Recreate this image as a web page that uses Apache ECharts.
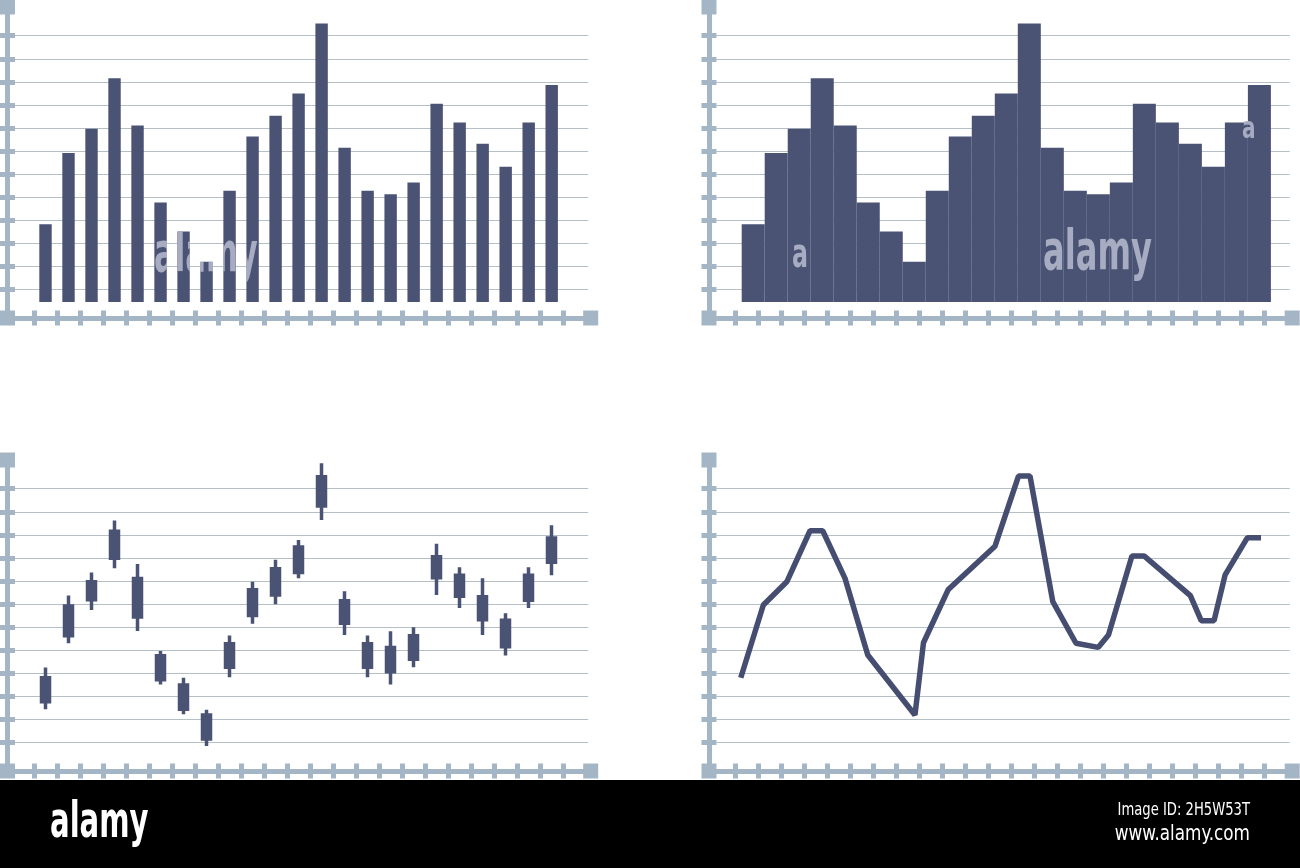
<!DOCTYPE html>
<html>
<head>
<meta charset="utf-8">
<script src="https://cdn.jsdelivr.net/npm/echarts@6/dist/echarts.min.js"></script>
<style>
html,body{margin:0;padding:0;background:#fff}
#c{width:1300px;height:868px}
#wm{position:absolute;left:154px;top:225px;font-weight:bold;font-size:55px;line-height:55px;
  font-family:"DejaVu Sans Condensed","DejaVu Sans",sans-serif;color:#a7acc3;mix-blend-mode:lighten;
  transform:scaleX(0.62);transform-origin:0 0;white-space:nowrap;pointer-events:none}
</style>
</head>
<body>
<div id="c"></div>
<div id="wm"></div>
<script>
// ---------- data ----------
const categories = ['1','2','3','4','5','6','7','8','9','10','11','12','13','14','15','16','17','18','19','20','21','22','23'];
const barValues = [3.38, 6.48, 7.53, 9.73, 7.67, 4.33, 3.06, 1.75, 4.84, 7.20, 8.10, 9.06, 12.11, 6.71, 4.84, 4.68, 5.20, 8.62, 7.80, 6.88, 5.88, 7.80, 9.43];
// [open, close, lowest, highest]
const candleValues = [
  [2.32, 3.36, 1.99, 3.80],
  [5.19, 6.48, 4.86, 6.93],
  [6.75, 7.53, 6.30, 7.93],
  [8.55, 9.73, 8.12, 10.20],
  [6.00, 7.67, 5.39, 8.30],
  [3.27, 4.32, 3.06, 4.52],
  [1.99, 3.04, 1.77, 3.36],
  [0.70, 1.74, 0.39, 1.97],
  [3.81, 4.84, 3.38, 5.20],
  [6.06, 7.19, 5.71, 7.53],
  [6.96, 8.10, 6.55, 8.49],
  [7.94, 9.04, 7.68, 9.35],
  [10.83, 12.10, 10.22, 12.68],
  [5.73, 6.71, 5.22, 7.12],
  [3.81, 4.84, 3.38, 5.20],
  [3.62, 4.67, 3.06, 5.38],
  [4.16, 5.19, 3.81, 5.55],
  [7.71, 8.62, 6.96, 9.19],
  [6.90, 7.81, 6.39, 8.16],
  [5.88, 6.88, 5.22, 7.68],
  [4.71, 5.86, 4.33, 6.16],
  [6.73, 7.81, 6.39, 8.16],
  [8.38, 9.43, 7.81, 9.99]
];
const lineX = [-0.04, 0.94, 1.96, 2.97, 3.52, 4.49, 5.48, 7.53, 7.90, 8.98, 11.01, 12.03, 12.53, 13.52, 14.53, 15.50, 15.94, 16.96, 17.50, 19.50, 19.97, 20.53, 21.01, 21.98, 22.57];
const lineY = [3.36, 6.52, 7.53, 9.75, 9.75, 7.68, 4.35, 1.74, 4.88, 7.20, 9.08, 12.13, 12.13, 6.67, 4.86, 4.68, 5.22, 8.65, 8.65, 6.93, 5.84, 5.84, 7.83, 9.45, 9.45];
const gridTicks = 11;       // gridline intervals
const footerTexts = ['alamy', 'Image ID: 2H5W53T', 'www.alamy.com'];
const watermark = 'alamy';

document.getElementById('wm').textContent = watermark;

// ---------- styling ----------
const AX = '#a4b5c5', GRID = '#b5c0c6', BAR = '#4a5374', LINE = '#454e70', WM = '#a7acc3';
const COND = '"DejaVu Sans Condensed", "DejaVu Sans", sans-serif';

const chart = echarts.init(document.getElementById('c'), null, {renderer: 'canvas'});
const grids = [], xAxes = [], yAxes = [], series = [];
function addGrid(g) { grids.push(g); return grids.length - 1; }

const panels = [
  {ax: 7.5, dy: 0, tickLeft: 34, dataLeft: 34, kind: 'bar'},
  {ax: 709, dy: 0, tickLeft: 735.7, dataLeft: 741.7, kind: 'hist'},
  {ax: 7.5, dy: 453, tickLeft: 34, dataLeft: 34, kind: 'candle'},
  {ax: 709, dy: 453, tickLeft: 735.7, dataLeft: 741.7, kind: 'line'}
];

panels.forEach(p => {
  const capX = p.ax + 583.2;
  // frame axes with square caps
  let gi = addGrid({left: p.ax, top: 7 + p.dy, width: capX - p.ax, height: 311});
  xAxes.push({gridIndex: gi, type: 'value', min: 0, max: 1,
    axisLine: {show: true, onZero: false, symbol: ['rect', 'rect'], symbolSize: [15, 15], lineStyle: {color: AX, width: 5}},
    axisTick: {show: false}, axisLabel: {show: false}, splitLine: {show: false}});
  yAxes.push({gridIndex: gi, type: 'value', min: 0, max: 1,
    axisLine: {show: true, onZero: false, symbol: ['none', 'rect'], symbolSize: [15, 15], lineStyle: {color: AX, width: 5}},
    axisTick: {show: false}, axisLabel: {show: false}, splitLine: {show: false}});
  // gridlines + y ticks
  gi = addGrid({left: p.ax + 7.5, top: 35.7 + p.dy, width: capX - 2.5 - (p.ax + 7.5), height: 253.6});
  xAxes.push({gridIndex: gi, type: 'value', show: false});
  yAxes.push({gridIndex: gi, type: 'value', min: 0, max: gridTicks, interval: 1,
    axisLine: {show: false},
    axisTick: {show: true, inside: false, length: 15, lineStyle: {color: AX, width: 5}},
    axisLabel: {show: false},
    splitLine: {show: true, lineStyle: {color: GRID, width: 1.2}}});
  // x ticks
  gi = addGrid({left: p.tickLeft, top: 300 + p.dy, width: 529, height: 10.5});
  xAxes.push({gridIndex: gi, type: 'category', data: categories, boundaryGap: true,
    axisLine: {show: false, onZero: false},
    axisTick: {show: true, inside: false, interval: 0, length: 15, lineStyle: {color: AX, width: 5}},
    axisLabel: {show: false}, splitLine: {show: false}});
  yAxes.push({gridIndex: gi, type: 'value', show: false, min: 0, max: 1});
  // data
  gi = addGrid({left: p.dataLeft, top: 3 + p.dy, width: 529.2, height: 299});
  const xi = xAxes.length, yi = yAxes.length;
  if (p.kind === 'line') {
    xAxes.push({gridIndex: gi, type: 'value', min: 0, max: 23, show: false});
  } else {
    xAxes.push({gridIndex: gi, type: 'category', data: categories, show: false});
  }
  yAxes.push({gridIndex: gi, type: 'value', min: 0, max: 13, show: false});
  if (p.kind === 'bar') {
    series.push({type: 'bar', xAxisIndex: xi, yAxisIndex: yi, data: barValues, barWidth: 12.4,
      itemStyle: {color: BAR}});
  } else if (p.kind === 'hist') {
    series.push({type: 'bar', xAxisIndex: xi, yAxisIndex: yi, data: barValues, barCategoryGap: '0%',
      itemStyle: {color: BAR}});
  } else if (p.kind === 'candle') {
    series.push({type: 'candlestick', xAxisIndex: xi, yAxisIndex: yi, data: candleValues, barWidth: 9,
      itemStyle: {color: BAR, color0: BAR, borderColor: BAR, borderColor0: BAR, borderColorDoji: BAR, borderWidth: 3.5}});
  } else {
    series.push({type: 'line', xAxisIndex: xi, yAxisIndex: yi, clip: false, symbol: 'none',
      data: lineX.map((x, i) => [x, lineY[i]]),
      lineStyle: {color: LINE, width: 5.5}});
  }
});

const wmStyle = (size) => ({fill: WM, fontSize: size, fontWeight: 'bold', fontFamily: COND, textAlign: 'left', textVerticalAlign: 'middle'});

chart.setOption({
  backgroundColor: '#ffffff',
  animation: false,
  grid: grids,
  xAxis: xAxes,
  yAxis: yAxes,
  series: series,
  graphic: [
    {type: 'text', z: 50, x: 1043, y: 255, scaleX: 0.65, style: Object.assign({text: watermark}, wmStyle(55))},
    {type: 'text', z: 50, x: 792, y: 257, scaleX: 0.66, style: Object.assign({text: 'a'}, wmStyle(40))},
    {type: 'text', z: 50, x: 1242, y: 130, scaleX: 0.72, style: Object.assign({text: 'a'}, wmStyle(31))},
    {type: 'rect', z: 60, shape: {x: 0, y: 780, width: 1300, height: 88}, style: {fill: '#000'}},
    {type: 'text', z: 61, x: 50, y: 824, scaleX: 0.66, style: {text: footerTexts[0], fill: '#fff', fontSize: 49, fontWeight: 'bold', fontFamily: COND, textAlign: 'left', textVerticalAlign: 'middle'}},
    {type: 'text', z: 61, x: 1250, y: 811, scaleX: 0.86, style: {text: footerTexts[1], fill: '#fff', fontSize: 17, fontFamily: COND, textAlign: 'right', textVerticalAlign: 'middle'}},
    {type: 'text', z: 61, x: 1250, y: 834, scaleX: 0.85, style: {text: footerTexts[2], fill: '#fff', fontSize: 22, fontFamily: COND, textAlign: 'right', textVerticalAlign: 'middle'}}
  ]
});
</script>
</body>
</html>
